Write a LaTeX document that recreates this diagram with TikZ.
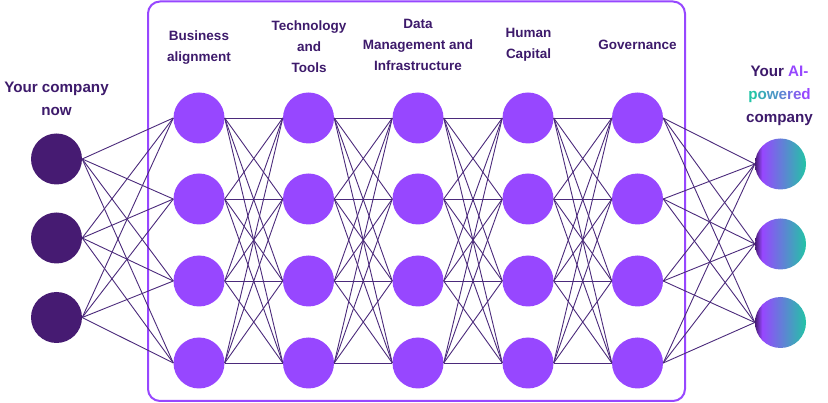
\documentclass[tikz,border=0pt]{standalone}
\usepackage{fontspec}
\setmainfont{Liberation Sans}
\usetikzlibrary{positioning}
\definecolor{inkpurple}{HTML}{3D1A6B}
\definecolor{darkdot}{HTML}{461B72}
\definecolor{vivid}{HTML}{9747FF}
\definecolor{aiteal}{HTML}{22C4A6}
\definecolor{linkpurple}{HTML}{4B2A7B}
\pgfdeclarehorizontalshading{aishade}{100bp}{color(0bp)=(darkdot); color(25bp)=(darkdot); color(32bp)=(vivid); color(75bp)=(aiteal); color(100bp)=(aiteal)}
\tikzstyle{neuron}=[circle, fill=vivid, minimum size=51pt, inner sep=0pt]
\tikzstyle{nowdot}=[circle, fill=darkdot, minimum size=51pt, inner sep=0pt]
\tikzstyle{aidot}=[circle, shading=aishade, minimum size=51pt, inner sep=0pt]
\tikzstyle{link}=[draw=linkpurple, line width=0.9pt]
\tikzstyle{toplbl}=[font=\bfseries\fontsize{13.5}{21}\selectfont, text=inkpurple, align=center]
\tikzstyle{sidelbl}=[font=\bfseries\fontsize{15.2}{23}\selectfont, text=inkpurple, align=center]

\begin{document}
\begin{tikzpicture}[x=1pt,y=-1pt]
\useasboundingbox (0,0) rectangle (828,403);
\draw[vivid, line width=2pt, rounded corners=12pt] (148,1.5) rectangle (685,401);

% your company now
\foreach \i/\y in {1/159,2/238,3/317.5}
  \node[nowdot] (in\i) at (56.5,\y) {};
% capability layers
\foreach \c/\x in {1/199,2/308.5,3/418,4/528,5/637.5}
  \foreach \r/\y in {1/118,2/199,3/281,4/363}
    \node[neuron] (h\c\r) at (\x,\y) {};
% AI-powered company
\foreach \i/\y in {1/164,2/244,3/322.5}
  \node[aidot] (out\i) at (780.5,\y) {};

\foreach \i in {1,2,3}
  \foreach \r in {1,...,4}
    \draw[link] (in\i.east) -- (h1\r.west);
\foreach \c/\n in {1/2,2/3,3/4,4/5}
  \foreach \r in {1,...,4}
    \foreach \s in {1,...,4}
      \draw[link] (h\c\r.east) -- (h\n\s.west);
\foreach \r in {1,...,4}
  \foreach \i in {1,2,3}
    \draw[link] (h5\r.east) -- (out\i.west);

\node[sidelbl] (nowlbl) at (56.5,98.5) {Your company\\now};
\node[toplbl] (bizlbl) at (199,47.5) {Business\\alignment};
\node[toplbl] (techlbl) at (309,47) {Technology\\and\\Tools};
\node[toplbl] (datalbl) at (418,45) {Data\\Management and\\Infrastructure};
\node[toplbl] (humlbl) at (528.5,45) {Human\\Capital};
\node[toplbl] (govlbl) at (637.5,45) {Governance};
\node[sidelbl] (ailbl) at (779.5,95.5) {Your \textcolor{vivid}{AI-}\\%
  \textcolor{aiteal}{p}\textcolor{aiteal!80!vivid}{o}\textcolor{aiteal!65!vivid}{w}%
  \textcolor{aiteal!50!vivid}{e}\textcolor{aiteal!35!vivid}{r}\textcolor{aiteal!20!vivid}{e}%
  \textcolor{vivid}{d}\\company};
\end{tikzpicture}
\end{document}
